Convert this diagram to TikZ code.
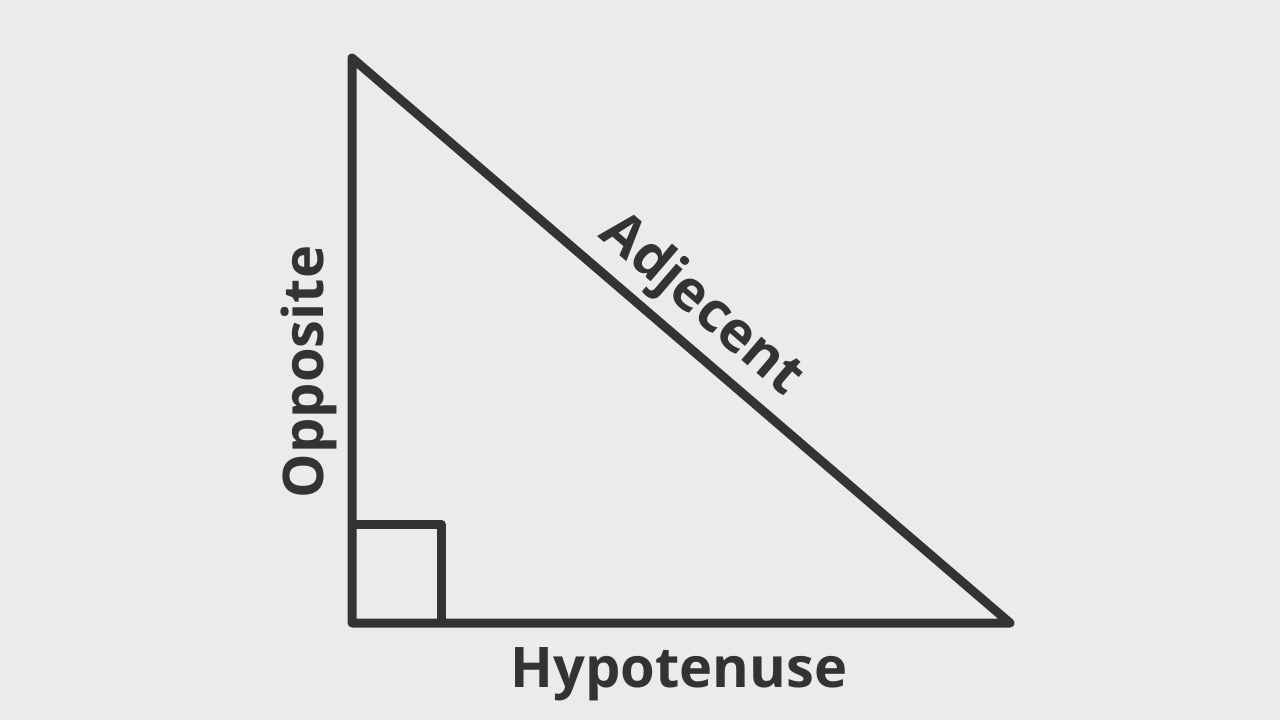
\documentclass[tikz,border=0pt]{standalone}
\usepackage{fontspec}
\setmainfont{Open Sans}
\definecolor{bg}{HTML}{EBEBEB}
\definecolor{ink}{HTML}{333333}
\begin{document}
\begin{tikzpicture}[x=1pt,y=-1pt,
  edge/.style={draw=ink,line width=9pt,line join=round,line cap=round},
  lbl/.style={text=ink,font=\fontsize{56}{58}\selectfont\bfseries,inner sep=0pt}]
\fill[bg] (0,0) rectangle (1280,720);
\useasboundingbox (0,0) rectangle (1280,720);
\coordinate (A) at (352,58);
\coordinate (B) at (352,623);
\coordinate (C) at (1010,623);
\coordinate (S1) at (352,524);
\coordinate (S2) at (441,524);
\coordinate (S3) at (441,623);
\draw[edge] (A) -- (B) -- (C) -- cycle;
\draw[edge,line cap=butt] (S1) -- (S2) -- (S3);
\node[lbl,rotate=90] (opp) at (309,372) {Opposite};
\node[lbl,rotate=-40.65] (adj) at (701,306) {Adjecent};
\node[lbl] (hyp) at (679,674) {Hypotenuse};
\end{tikzpicture}
\end{document}
